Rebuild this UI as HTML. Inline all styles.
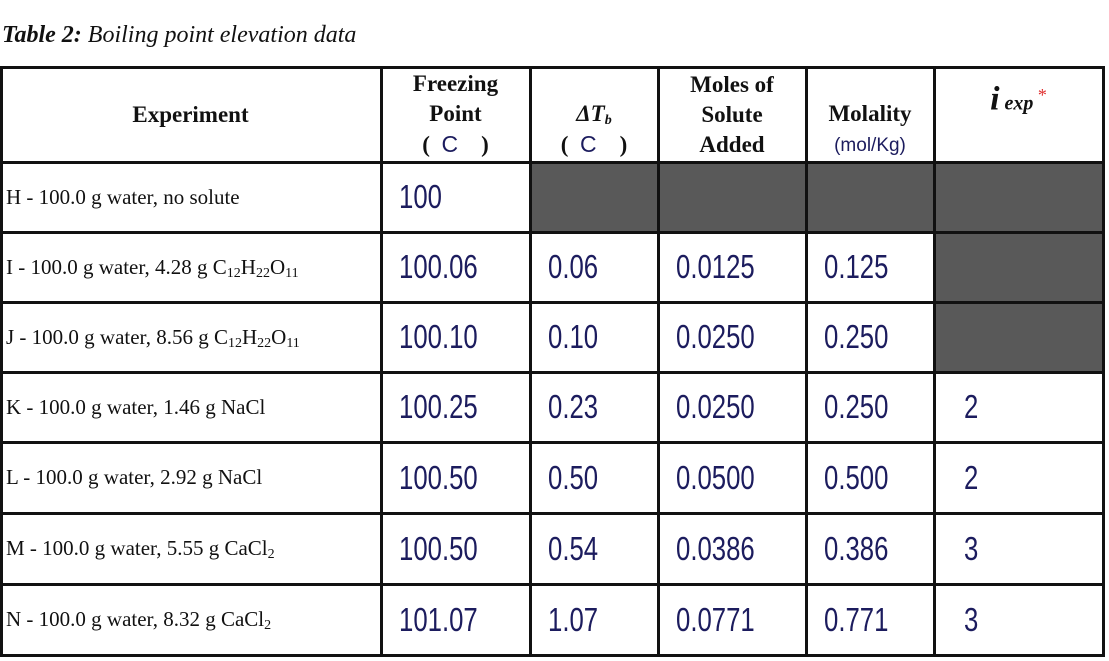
<!DOCTYPE html>
<html><head><meta charset="utf-8">
<style>
html,body{margin:0;padding:0;background:#fff;width:1109px;height:661px;overflow:hidden;position:relative;font-family:"Liberation Serif",serif;}
.t{position:absolute;left:2px;top:22px;font-size:24px;font-style:italic;color:#111;}
.ln{position:absolute;background:#111;}
.cell{position:absolute;display:flex;align-items:center;box-sizing:border-box;}
.gray{position:absolute;background:#595959;}
.hdr{font-weight:bold;font-size:23px;text-align:center;justify-content:center;line-height:30px;color:#111;}
.hdr>div{width:100%;text-align:center;}
.exp{font-size:21px;padding-left:6px;color:#111;}
.hw{font-family:"Liberation Sans",sans-serif;color:#1c1c5e;font-size:33px;justify-content:flex-start;}
.hw span{display:inline-block;transform:scaleX(0.78);transform-origin:left center;}
sub{font-size:14px;vertical-align:-3px;line-height:0;}
.hc{font-family:"Liberation Sans",sans-serif;font-weight:normal;color:#1c1c5e;}
</style></head><body>
<div class="t"><b>Table 2:</b> Boiling point elevation data</div>
<div id="tbl"></div>
<script>
const colX=[0,381,530,658,806,934,1103];
const rowY=[67,162,232,302,372,442,513,584,655];
const experiments=['H - 100.0 g water, no solute','I - 100.0 g water, 4.28 g C<sub>12</sub>H<sub>22</sub>O<sub>11</sub>','J - 100.0 g water, 8.56 g C<sub>12</sub>H<sub>22</sub>O<sub>11</sub>','K - 100.0 g water, 1.46 g NaCl','L - 100.0 g water, 2.92 g NaCl','M - 100.0 g water, 5.55 g CaCl<sub>2</sub>','N - 100.0 g water, 8.32 g CaCl<sub>2</sub>'];
const freezing=['100','100.06','100.10','100.25','100.50','100.50','101.07'];
const deltaT=[null,'0.06','0.10','0.23','0.50','0.54','1.07'];
const moles=[null,'0.0125','0.0250','0.0250','0.0500','0.0386','0.0771'];
const molality=[null,'0.125','0.250','0.250','0.500','0.386','0.771'];
const iexp=[null,null,null,'2','2','3','3'];
const headers=[
'Experiment',
'Freezing<br>Point<br>(&nbsp;&nbsp;<span class="hc">C</span>&nbsp;&nbsp;&nbsp;&nbsp;)',
'&nbsp;<br><i>ΔT<sub>b</sub></i><br>(&nbsp;&nbsp;<span class="hc">C</span>&nbsp;&nbsp;&nbsp;&nbsp;)',
'Moles of<br>Solute<br>Added',
'&nbsp;<br>Molality<br><span class="hc" style="font-size:19px">(mol/Kg)</span>',
'<span style="font-size:34px;font-style:italic">i</span><i style="font-size:20px"> exp</i><sup style="color:#e03030;font-weight:normal;font-size:18px">&nbsp;*</sup><br>&nbsp;'];
const hdrNames=['experiment-header','freezing-point-header','delta-tb-header','moles-header','molality-header','i-exp-header'];
const tbl=document.getElementById('tbl');
function mk(cls,x,y,w,h,html){const d=document.createElement('div');d.className=cls;d.style.left=x+'px';d.style.top=y+'px';d.style.width=w+'px';d.style.height=h+'px';if(html!==undefined)d.innerHTML=html;tbl.appendChild(d);return d;}
for(let c=0;c<6;c++){
  const h=mk('cell hdr',colX[c],rowY[0],colX[c+1]-colX[c],rowY[1]-rowY[0],'<div>'+headers[c]+'</div>');
  
  
}
const cols=[freezing,deltaT,moles,molality,iexp];
const colNames=['freezing-point','delta-tb','moles','molality','i-exp'];
for(let r=0;r<7;r++){
  const y0=rowY[r+1],y1=rowY[r+2];
  const e=mk('cell exp',colX[0],y0,colX[1]-colX[0],y1-y0,'<div>'+experiments[r]+'</div>');
  
  
  for(let c=0;c<5;c++){
    const v=cols[c][r];
    const x0=colX[c+1],w=colX[c+2]-colX[c+1];
    if(v===null){
      const g=mk('gray',x0,y0,w,y1-y0);
      
      
    } else {
      const d=mk('cell hw',x0+(c===4?30:18),y0,w-20,y1-y0,'<span>'+v+'</span>');
      
      
    }
  }
}
for(const x of colX){const l=mk('ln',x===0?0:x-1,rowY[0],3,rowY[8]-rowY[0]+2);}
for(const y of rowY){const l=mk('ln',0,y-1,colX[6]+2,3);}
</script>
</body></html>
